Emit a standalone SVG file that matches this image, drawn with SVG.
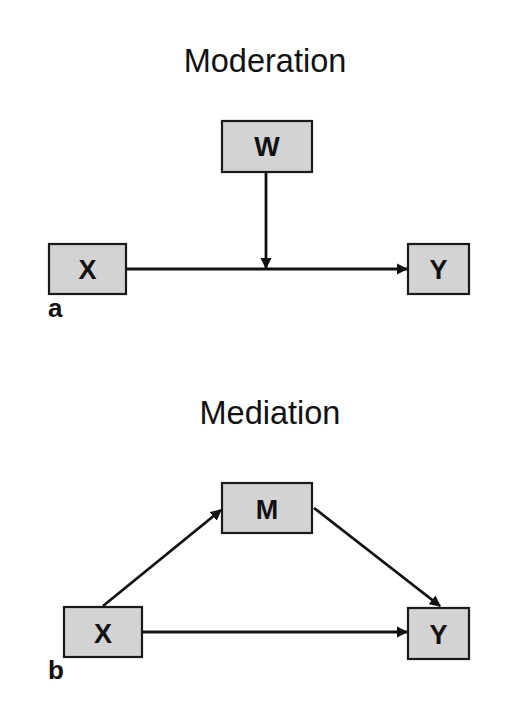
<svg xmlns="http://www.w3.org/2000/svg" width="520" height="726" viewBox="0 0 520 726">
<defs>
<style>
.title{font-family:"Liberation Sans",Arial,sans-serif;font-size:32.5px;fill:#111;text-anchor:middle}
.box{fill:#d3d3d3;stroke:#1a1a1a;stroke-width:2.2}
.lbl{font-family:"Liberation Sans",Arial,sans-serif;font-size:27px;font-weight:bold;fill:#111;text-anchor:middle}
.tag{font-family:"Liberation Sans",Arial,sans-serif;font-size:26px;font-weight:bold;fill:#111}
.edge{stroke:#111;stroke-width:2.8;fill:none;marker-end:url(#ah)}
</style>
<marker id="ah" viewBox="0 0 10 10" refX="9" refY="5" markerWidth="4" markerHeight="4" orient="auto" markerUnits="strokeWidth">
<path d="M0,0 L10,5 L0,10 z" fill="#111"/>
</marker>
</defs>
<rect width="520" height="726" fill="#fff"/>
<text class="title" x="265" y="72">Moderation</text>
<text class="title" x="270" y="424">Mediation</text>
<g id="connectors">
<line class="edge" x1="127" y1="269" x2="407" y2="269"/>
<line class="edge" x1="266" y1="173" x2="266" y2="268"/>
<line class="edge" x1="143" y1="632" x2="407" y2="632"/>
<line class="edge" x1="103" y1="606" x2="221" y2="510"/>
<line class="edge" x1="314" y1="508" x2="440" y2="606"/>
</g>
<g id="node-W"><rect class="box" x="222" y="121" width="90" height="51"/><text class="lbl" x="267" y="156">W</text></g>
<g id="node-Xa"><rect class="box" x="49" y="244" width="77" height="50"/><text class="lbl" x="87.5" y="279">X</text></g>
<g id="node-Ya"><rect class="box" x="408" y="244" width="61" height="50"/><text class="lbl" x="438.5" y="279">Y</text></g>
<text class="tag" x="48" y="317">a</text>
<g id="node-M"><rect class="box" x="222" y="483" width="90" height="50"/><text class="lbl" x="267" y="519">M</text></g>
<g id="node-Xb"><rect class="box" x="64" y="607" width="78" height="50"/><text class="lbl" x="103" y="643">X</text></g>
<g id="node-Yb"><rect class="box" x="408" y="608" width="61" height="51"/><text class="lbl" x="438.5" y="644">Y</text></g>
<text class="tag" x="48" y="679">b</text>
</svg>
